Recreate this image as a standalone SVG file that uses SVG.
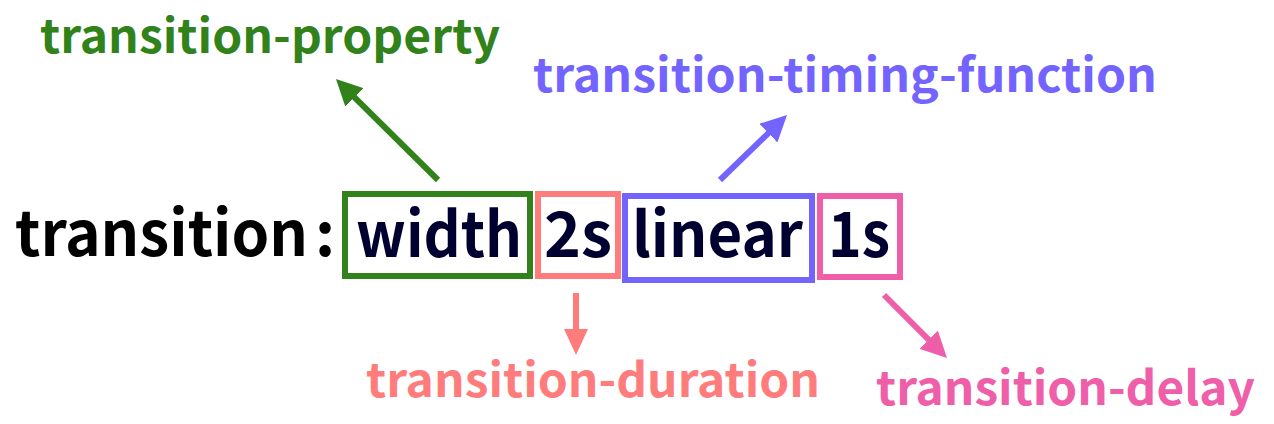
<svg xmlns="http://www.w3.org/2000/svg" width="1274" height="424" viewBox="0 0 1274 424">
<style>
text{font-family:"Noto Sans CJK KR","Noto Sans",sans-serif;}
.main{font-size:62px;font-weight:700;}
.val{fill:#000030;}
.lbl{font-size:47px;font-weight:700;}
.box{fill:none;stroke-width:6;}
.con{fill:none;stroke-width:6;}
</style>
<defs>
<marker id="ag" markerUnits="userSpaceOnUse" markerWidth="26" markerHeight="26" viewBox="0 0 26 26" refX="13" refY="13" orient="auto"><path d="M0,0 L26,13 L0,26 Z" fill="#32821b"/></marker>
<marker id="ab" markerUnits="userSpaceOnUse" markerWidth="26" markerHeight="26" viewBox="0 0 26 26" refX="13" refY="13" orient="auto"><path d="M0,0 L26,13 L0,26 Z" fill="#7464ff"/></marker>
<marker id="as" markerUnits="userSpaceOnUse" markerWidth="26" markerHeight="26" viewBox="0 0 26 26" refX="13" refY="13" orient="auto"><path d="M0,1 L26,13 L0,25 Z" fill="#ff7c7c"/></marker>
<marker id="ap" markerUnits="userSpaceOnUse" markerWidth="26" markerHeight="26" viewBox="0 0 26 26" refX="13" refY="13" orient="auto"><path d="M0,0 L26,13 L0,26 Z" fill="#ef5ea8"/></marker>
</defs>
<rect width="1274" height="424" fill="#ffffff"/>
<g id="prefix"><text class="main" x="15" y="256" fill="#000000" textLength="293" lengthAdjust="spacingAndGlyphs">transition</text><text class="main" x="315" y="256" fill="#000000">:</text></g>
<g id="width-node"><rect class="box" x="345" y="194" width="185" height="82" stroke="#32821b"/><text class="main val" x="356" y="257" textLength="166" lengthAdjust="spacingAndGlyphs">width</text></g>
<g id="duration-node"><rect class="box" x="538" y="194" width="80" height="82" stroke="#ff7c7c"/><text class="main val" x="544" y="257" textLength="68" lengthAdjust="spacingAndGlyphs">2s</text></g>
<g id="timing-node"><rect class="box" x="625" y="196" width="187" height="84" stroke="#7464ff"/><text class="main val" x="632" y="257" textLength="171" lengthAdjust="spacingAndGlyphs">linear</text></g>
<g id="delay-node"><rect class="box" x="820" y="196" width="80" height="81" stroke="#ef5ea8"/><text class="main val" x="828" y="257" textLength="62" lengthAdjust="spacingAndGlyphs">1s</text></g>
<g id="label-property"><text class="lbl" x="40" y="53" fill="#32821b" textLength="460" lengthAdjust="spacingAndGlyphs">transition-property</text></g>
<g id="label-timing"><text class="lbl" x="533" y="92" fill="#7464ff" textLength="624" lengthAdjust="spacingAndGlyphs">transition-timing-function</text></g>
<g id="label-duration"><text class="lbl" x="366" y="397" fill="#ff7c7c" textLength="454" lengthAdjust="spacingAndGlyphs">transition-duration</text></g>
<g id="label-delay"><text class="lbl" x="876" y="405" fill="#ef5ea8" textLength="379" lengthAdjust="spacingAndGlyphs">transition-delay</text></g>
<g id="connectors">
<line class="con" x1="438" y1="180" x2="345.2" y2="88.2" stroke="#32821b" marker-end="url(#ag)"/>
<line class="con" x1="720" y1="180" x2="777.7" y2="124.1" stroke="#7464ff" marker-end="url(#ab)"/>
<line class="con" x1="576" y1="293" x2="576" y2="342" stroke="#ff7c7c" marker-end="url(#as)"/>
<line class="con" x1="884" y1="295" x2="937.8" y2="348.8" stroke="#ef5ea8" marker-end="url(#ap)"/>
</g>
</svg>
